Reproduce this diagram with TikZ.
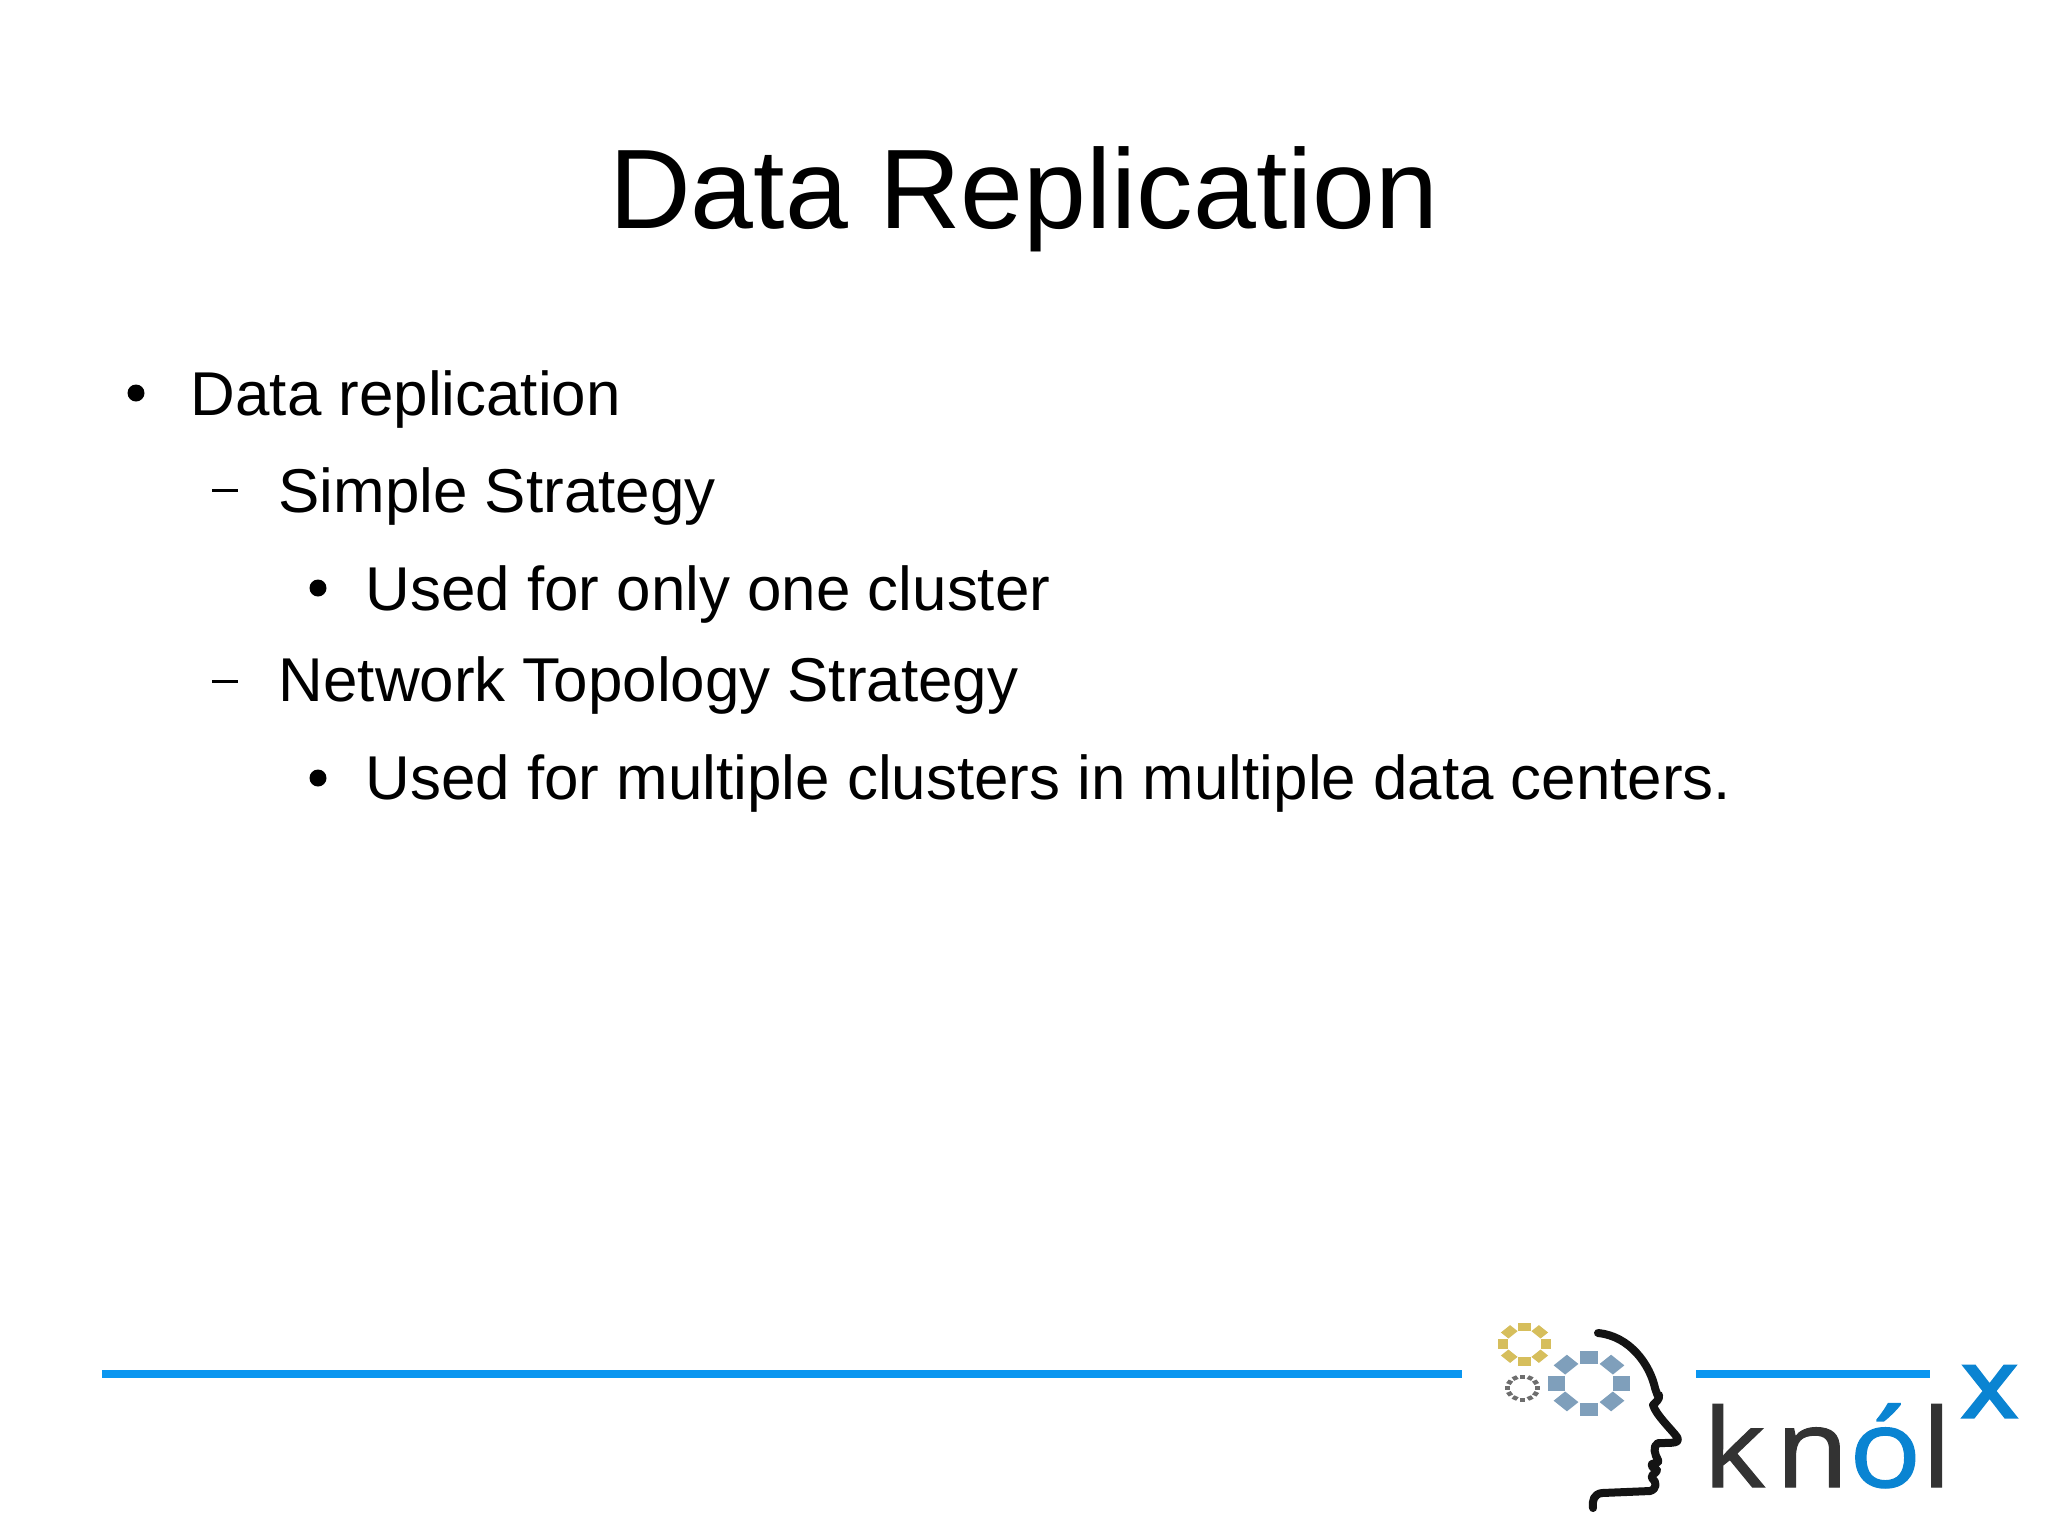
\documentclass[tikz,border=0pt]{standalone}
\usepackage{fontspec}
\setmainfont{Liberation Sans}
\newfontfamily\logofont[LetterSpace=9, FakeStretch=1.1, FakeBold=1.2]{Open Sans}
\newfontfamily\logosup[FakeStretch=1.12, FakeBold=3.5]{Open Sans}
\definecolor{ruleblue}{HTML}{0A96F0}
\definecolor{logoblue}{HTML}{0A84D2}
\definecolor{logodark}{HTML}{333333}
\definecolor{geargold}{HTML}{D6BE5C}
\definecolor{gearblue}{HTML}{7F9FBB}
\definecolor{geargray}{HTML}{6E6E6E}
\tikzset{
    titletext/.style={anchor=base, inner sep=0pt, font=\fontsize{32.15}{38}\selectfont},
    itemtext/.style={anchor=base west, inner sep=0pt, font=\fontsize{17.6}{21}\selectfont},
    rulepart/.style={ruleblue, line width=7.5*0.2845pt},
}

\begin{document}
\begin{tikzpicture}[x=0.01cm, y=-0.01cm]
    \useasboundingbox (0, 0) rectangle (2048, 1535);
    \fill[white] (0, 0) rectangle (2048, 1535);

    % Title
    \node[titletext] (title) at (1024, 228) {Data Replication};

    % Items
    \fill (136, 393) circle (8.5);
    \node[itemtext] (replication) at (190, 415) {Data replication};
    \fill (212, 488.5) rectangle (238, 491.5);
    \node[itemtext] (simple) at (278, 512) {Simple Strategy};
    \fill (318, 588) circle (8.5);
    \node[itemtext] (onecluster) at (365, 610) {Used for only one cluster};
    \fill (212, 679.5) rectangle (238, 682.5);
    \node[itemtext] (network) at (278, 701) {Network Topology Strategy};
    \fill (318, 778) circle (8.5);
    \node[itemtext] (multicluster) at (365, 799) {Used for multiple clusters in multiple data centers.};

    % Rules
    \draw[rulepart] (102, 1374) -- (1462, 1374);
    \draw[rulepart] (1696, 1374) -- (1930, 1374);

    % Gears
    \begin{scope}[shift={(1524.5, 1344)}, xscale=1.25]
        \foreach \a in {0, 45, ..., 315}
            \fill[geargold, rotate=\a] (13, -5.2) rectangle (21.5, 5.2);
    \end{scope}
    \begin{scope}[shift={(1589, 1383)}, xscale=1.25]
        \foreach \a in {0, 45, ..., 315}
            \fill[gearblue, rotate=\a] (19.5, -7.5) rectangle (32.5, 7.5);
    \end{scope}
    \begin{scope}[shift={(1522.6, 1388)}, xscale=1.3]
        \foreach \a in {0, 30, ..., 330}
            \fill[geargray, rotate=\a] (9.5, -2) rectangle (13.5, 2);
    \end{scope}

    % Head
    \draw[logodark!40!black, line width=8*0.2845pt, line cap=round, line join=round]
        (1598, 1333) .. controls (1630, 1336) and (1650, 1365) .. (1655, 1388)
        .. controls (1659, 1400) and (1659, 1398) .. (1659, 1395)
        .. controls (1660, 1399) and (1656, 1402) .. (1653, 1405)
        .. controls (1656, 1415) and (1672, 1430) .. (1677, 1437)
        .. controls (1680, 1443) and (1675, 1443) .. (1658, 1443)
        .. controls (1652, 1446) and (1655, 1455) .. (1658, 1460)
        .. controls (1660, 1463) and (1654, 1463) .. (1652, 1464)
        .. controls (1650, 1467) and (1656, 1469) .. (1657, 1470)
        .. controls (1657, 1473) and (1650, 1475) .. (1652, 1478)
        .. controls (1657, 1482) and (1657, 1489) .. (1650, 1491)
        -- (1602, 1493)
        .. controls (1594, 1494) and (1592, 1500) .. (1593, 1508);

    % Wordmark
    \node[anchor=base west, inner sep=0pt, text=logodark, font=\logofont\fontsize{31}{36}\selectfont]
        (knol) at (1702, 1487) {kn\textcolor{logoblue}{ó}l};
    \node[anchor=base west, inner sep=0pt, text=logoblue, font=\logosup\fontsize{27}{32}\selectfont]
        (supx) at (1961, 1417) {x};
\end{tikzpicture}
\end{document}
